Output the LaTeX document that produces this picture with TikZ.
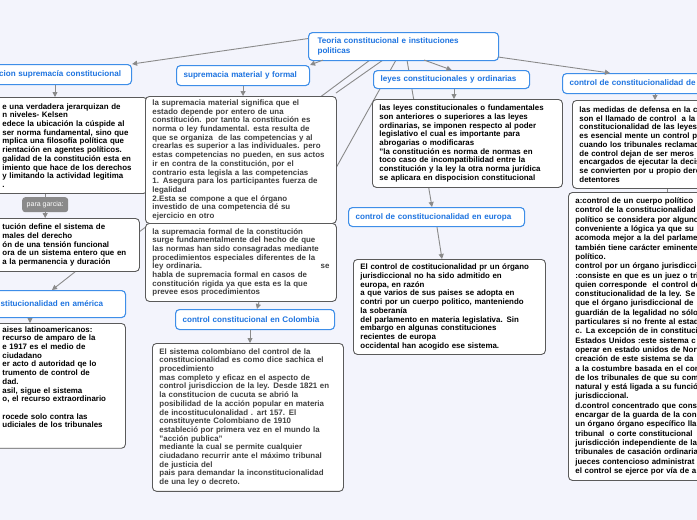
\documentclass[tikz,border=0pt]{standalone}
\usepackage{fontspec}
\setmainfont{Liberation Sans}
\usetikzlibrary{arrows.meta}
\AtBeginDocument{\lineskiplimit=-3pt}
\definecolor{bg}{HTML}{F3F4FC}
\definecolor{tblue}{HTML}{1E74E0}
\definecolor{bblue}{HTML}{3E8EE8}
\definecolor{bgray}{HTML}{5A5A5A}
\definecolor{lgray}{HTML}{8A8A8A}
\tikzset{
 base/.style={anchor=north west,rounded corners=4pt,inner xsep=7pt,inner ysep=3pt,align=left,font=\bfseries\fontsize{7.9}{8.7}\selectfont},
 title/.style={base,draw=bblue,line width=1.1pt,fill=white,text=tblue,font=\bfseries\fontsize{8.1}{9.5}\selectfont},
 body/.style={base,draw=bgray,line width=0.9pt,fill=white,text=black},
 gbody/.style={body,text=black!75},
 link/.style={draw=lgray,line width=0.9pt},
 arr/.style={link,-{Triangle[width=5pt,length=5pt]}},
}
\begin{document}
\begin{tikzpicture}[x=1pt,y=-1pt]
\fill[bg] (0,0) rectangle (697,520);
\useasboundingbox (0,0) rectangle (697,520);
% background connectors (behind boxes)
\coordinate (r1) at (383,60);
\coordinate (r2) at (396,60);
\coordinate (r3) at (407,60);
\coordinate (r4) at (370,60);
\coordinate (m1) at (336,93);
\coordinate (m2) at (336,168);
\coordinate (b2) at (139,232);
\coordinate (e1) at (432,207);
\draw[link] (r1) -- (m1);
\draw[link] (r2) -- (m2);
\draw[link] (r4) -- (b2);
\draw[arr] (r3) -- (e1);

% root
\node[title,text width=172pt,minimum height=28pt,inner xsep=9pt] (root) at (308,32) {Teoria constitucional e instituciones\\politicas};

% left branch
\node[title,text width=130pt,minimum height=20pt] (lt) at (-13,64) {acion supremacía constitucional};
\node[body,text width=137pt,minimum height=96pt,inner xsep=8pt] (lb) at (-6,97) {e una verdadera jerarquizan de\\
n niveles- Kelsen\\
edece la ubicación la cúspide al\\
 ser norma fundamental, sino que\\
mplica una filosofía política que\\
rientación en agentes políticos.\\
galidad de la constitución esta en\\
imiento que hace de los derechos\\
 y limitando la actividad legitima\\
.};
\node[anchor=north west,fill=lgray,rounded corners=3pt,minimum width=46pt,minimum height=15pt,text=white,font=\fontsize{7}{8}\selectfont] (pg) at (22,197) {para garcia:};
\node[body,text width=129pt,minimum height=53pt,inner xsep=8pt] (lb2) at (-6,218) {tución define el sistema de\\
males del derecho\\
ón de una tensión funcional\\
ora de un sistema entero que en\\
a la permanencia y duración};
\node[title,text width=115pt,minimum height=27pt,inner xsep=10pt] (at) at (-10,290) {stitucionalidad en américa\\[6pt]};
\node[body,text width=115pt,minimum height=102pt,inner xsep=8pt] (ab) at (-6,323) {aises latinoamericanos:\\
recurso de amparo de la\\
e 1917 es el medio de\\
ciudadano\\
er acto d autoridad qe lo\\
trumento de control de\\
dad.\\
asil, sigue el sistema\\
o, el recurso extraordinario\\
\mbox{}\\
rocede solo contra las\\
udiciales de los tribunales\\
\mbox{}\\
\mbox{}};

% middle branch
\node[title,text width=119pt,minimum height=20pt] (st) at (176,65) {supremacia material y formal};
\node[gbody,text width=177pt,minimum height=127pt] (mb) at (145,96) {la supremacia material significa que el\\
estado depende por entero de una\\
constitución. por tanto la constitución es\\
norma o ley fundamental. esta resulta de\\
que se organiza\ \ de las competencias y al\\
crearlas es superior a las individuales. pero\\
estas competencias no pueden, en sus actos\\
ir en contra de la constitución, por el\\
contrario esta legisla a las competencias\\
1. Asegura para los participantes fuerza de\\
legalidad\\
2.Esta se compone a que el órgano\\
investido de una competencia dé su\\
ejercicio en otro};
\node[gbody,text width=177pt,minimum height=78pt] (fb) at (145,223) {la supremacia formal de la constitución\\
surge fundamentalmente del hecho de que\\
las normas han sido consagradas mediante\\
procedimientos especiales diferentes de la\\
ley ordinaria.\hfill se\\
habla de supremacia formal en casos de\\
constitución rigida ya que esta es la que\\
prevee esos procedimientos};
\node[title,text width=145pt,minimum height=20pt] (ct) at (175,309) {control constitucional en Colombia};
\node[gbody,text width=177pt,minimum height=144pt,inner ysep=5pt] (cb) at (152,343) {El sistema colombiano del control de la\\
constitucionalidad es como dice sachica el\\
procedimiento\\
mas completo y eficaz en el aspecto de\\
control jurisdiccion de la ley. Desde 1821 en\\
la constitucion de cucuta se abrió la\\
posibilidad de la acción popular en materia\\
de incostituculonalidad . art 157. El\\
constituyente Colombiano de 1910\\
estableció por primera vez en el mundo la\\
"acción publica"\\
mediante la cual se permite cualquier\\
ciudadano recurrir ante el máximo tribunal\\
de justicia del\\
pais para demandar la inconstitucionalidad\\
de una ley o decreto.};

% leyes branch
\node[title,text width=142pt,minimum height=18pt] (lyt) at (373,70) {leyes constitucionales y ordinarias};
\node[body,text width=176pt,minimum height=88pt] (lyb) at (372,99) {las leyes constitucionales o fundamentales\\
son anteriores o superiores a las leyes\\
ordinarias, se imponen respecto al poder\\
legislativo el cual es importante para\\
abrogarias o modificaras\\
"la constitución es norma de normas en\\
toco caso de incompatibilidad entre la\\
constitución y la ley la otra norma jurídica\\
se aplicara en dispocision constitucional};
\node[title,text width=162pt,minimum height=19pt] (et) at (348,207) {control de constitucionalidad en europa};
\node[body,text width=178pt,minimum height=95pt] (eb) at (353,259) {El control de costitucionalidad pr un órgano\\
jurisdiccional no ha sido admitido en\\
europa, en razón\\
a que varios de sus paises se adopta en\\
contri por un cuerpo politico, manteniendo\\
la soberanía\\
del parlamento en materia legislativa. Sin\\
embargo en algunas constituciones\\
recientes de europa\\
occidental han acogido ese sistema.};

% right branch
\node[title,text width=200pt,minimum height=20pt] (rt) at (562,73) {control de constitucionalidad de los poderes};
\node[body,text width=190pt,minimum height=88pt] (rb1) at (572,100) {las medidas de defensa en la constitución\\
son el llamado de control\ \ a la\\
constitucionalidad de las leyes\\
es esencial mente un control político\\
cuando los tribunales reclamados\\
de control dejan de ser meros\\
encargados de ejecutar la decisión\\
se convierten por u propio derecho\\
detentores};
\node[body,text width=190pt,minimum height=288pt,font=\bfseries\fontsize{7.9}{9.3}\selectfont] (rb2) at (568,192) {a:control de un cuerpo político\\
control de la constitucionalidad\\
político se considera por algunos\\
conveniente a lógica ya que su\\
acomoda mejor a la del parlamento\\
también tiene carácter eminente\\
político.\\
control por un órgano jurisdiccional\\
:consiste en que es un juez o tribunal\\
quien corresponde\ \ el control de la\\
constitucionalidad de la ley. Se dice\\
que el órgano jurisdiccional de\\
guardián de la legalidad no sólo de\\
particulares si no frente al estado\\
c. La excepción de in constitucionalidad\\
Estados Unidos :este sistema c\\
operar en estado unidos de Norte\\
creación de este sistema se da\\
a la costumbre basada en el con\\
de los tribunales de que su com\\
natural y está ligada a su función\\
jurisdiccional.\\
d.control concentrado que cons\\
encargar de la guarda de la const\\
un órgano órgano específico lla\\
tribunal\ \ o corte constitucional\\
jurisdicción independiente de la\\
tribunales de casación ordinaria\\
jueces contencioso administrat\\
el control se ejerce por vía de a};

% foreground connectors
\draw[arr] (root.west) ++(0,-8) -- (lt.north east);
\draw[arr] (323,60) -- (st.north east);
\draw[arr] (424,60) -- (lyt.north);
\draw[arr] (498,57) -- (rt.north -| 610,0);
\draw[arr] (lt.south -| 55,0) -- (lb.north -| 55,0);
\draw[link] (lb.south -| 45,0) -- (pg.north -| 45,0);
\draw[arr] (pg.south) -- (lb2.north -| pg.south);
\draw[arr] (lb2.south -| 75,0) -- (at.north -| 52,0);
\draw[arr] (at.south -| 30,0) -- (ab.north -| 30,0);
\draw[arr] (st.south) -- (mb.north -| st.south);
\draw[arr] (fb.south -| 259,0) -- (ct.north -| 257,0);
\draw[arr] (ct.south -| 250,0) -- (cb.north -| 250,0);
\draw[arr] (lyt.south -| 454,0) -- (lyb.north -| 454,0);
\draw[arr] (et.south -| 437,0) -- (eb.north -| 442,0);
\draw[arr] (rt.south -| 655,0) -- (rb1.north -| 655,0);
\draw[link] (rb1.south -| 667,0) -- (rb2.north -| 667,0);
\end{tikzpicture}
\end{document}
